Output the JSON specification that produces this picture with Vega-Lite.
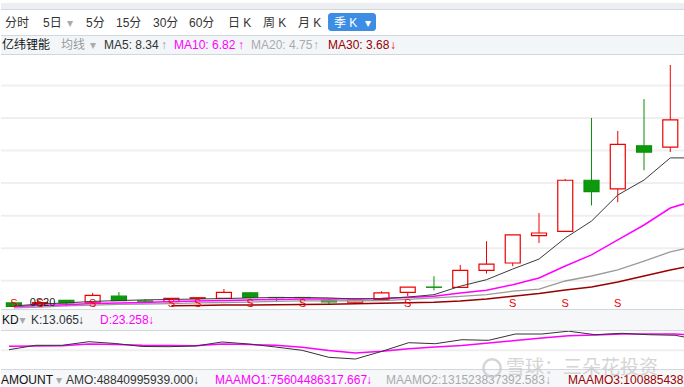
{
"$schema":"https://vega.github.io/schema/vega-lite/v6.json",
"padding":0,
"spacing":0,
"bounds":"flush",
"background":"#ffffff",
"config":{"view":{"stroke":null},"axis":{"disable":true},"legend":{"disable":true},"font":"Liberation Sans, Noto Sans CJK SC, sans-serif","text":{"font":"Liberation Sans, Noto Sans CJK SC, sans-serif"}},
"datasets":{
"candles":[
{"idx":0,"o":1.98,"h":2.00,"l":1.80,"c":1.82,"dir":"down"},
{"idx":1,"o":1.95,"h":2.01,"l":1.93,"c":1.99,"dir":"up"},
{"idx":2,"o":2.10,"h":2.10,"l":1.82,"c":1.98,"dir":"down"},
{"idx":3,"o":2.01,"h":2.44,"l":2.01,"c":2.33,"dir":"up"},
{"idx":4,"o":2.29,"h":2.48,"l":2.08,"c":2.08,"dir":"down"},
{"idx":5,"o":2.07,"h":2.16,"l":1.98,"c":2.06,"dir":"down"},
{"idx":6,"o":2.04,"h":2.19,"l":2.04,"c":2.19,"dir":"up"},
{"idx":7,"o":2.19,"h":2.22,"l":2.19,"c":2.22,"dir":"up"},
{"idx":8,"o":2.19,"h":2.62,"l":2.19,"c":2.47,"dir":"up"},
{"idx":9,"o":2.44,"h":2.48,"l":2.19,"c":2.24,"dir":"down"},
{"idx":10,"o":2.23,"h":2.25,"l":2.06,"c":2.22,"dir":"down"},
{"idx":11,"o":2.23,"h":2.25,"l":2.13,"c":2.22,"dir":"down"},
{"idx":12,"o":2.10,"h":2.16,"l":1.94,"c":2.03,"dir":"down"},
{"idx":13,"o":2.01,"h":2.10,"l":1.94,"c":2.10,"dir":"up"},
{"idx":14,"o":2.13,"h":2.52,"l":2.13,"c":2.44,"dir":"up"},
{"idx":15,"o":2.47,"h":2.71,"l":2.29,"c":2.71,"dir":"up"},
{"idx":16,"o":2.71,"h":3.21,"l":2.56,"c":2.70,"dir":"down"},
{"idx":17,"o":2.70,"h":3.73,"l":2.70,"c":3.48,"dir":"up"},
{"idx":18,"o":3.48,"h":4.82,"l":3.33,"c":3.77,"dir":"up"},
{"idx":19,"o":3.82,"h":5.11,"l":3.67,"c":5.11,"dir":"up"},
{"idx":20,"o":5.08,"h":6.12,"l":4.74,"c":5.20,"dir":"up"},
{"idx":21,"o":5.28,"h":7.69,"l":5.28,"c":7.63,"dir":"up"},
{"idx":22,"o":7.63,"h":10.50,"l":6.47,"c":7.11,"dir":"down"},
{"idx":23,"o":7.23,"h":9.90,"l":6.62,"c":9.28,"dir":"up"},
{"idx":24,"o":9.22,"h":11.37,"l":8.09,"c":8.93,"dir":"down"},
{"idx":25,"o":9.16,"h":12.94,"l":8.93,"c":10.41,"dir":"up"}
],
"ma":[
{"idx":0,"ma5":1.84,"ma10":1.82,"ma20":1.75,"ma30":null},
{"idx":1,"ma5":1.93,"ma10":1.86,"ma20":1.79,"ma30":null},
{"idx":2,"ma5":1.98,"ma10":1.90,"ma20":1.84,"ma30":null},
{"idx":3,"ma5":2.05,"ma10":1.95,"ma20":1.88,"ma30":null},
{"idx":4,"ma5":2.09,"ma10":1.98,"ma20":1.91,"ma30":null},
{"idx":5,"ma5":2.12,"ma10":2.00,"ma20":1.93,"ma30":null},
{"idx":6,"ma5":2.14,"ma10":2.05,"ma20":1.95,"ma30":1.85},
{"idx":7,"ma5":2.16,"ma10":2.07,"ma20":1.98,"ma30":1.86},
{"idx":8,"ma5":2.18,"ma10":2.09,"ma20":2.00,"ma30":1.88},
{"idx":9,"ma5":2.21,"ma10":2.12,"ma20":2.02,"ma30":1.88},
{"idx":10,"ma5":2.23,"ma10":2.14,"ma20":2.05,"ma30":1.90},
{"idx":11,"ma5":2.23,"ma10":2.16,"ma20":2.07,"ma30":1.91},
{"idx":12,"ma5":2.21,"ma10":2.16,"ma20":2.07,"ma30":1.92},
{"idx":13,"ma5":2.16,"ma10":2.17,"ma20":2.08,"ma30":1.94},
{"idx":14,"ma5":2.18,"ma10":2.18,"ma20":2.09,"ma30":1.97},
{"idx":15,"ma5":2.25,"ma10":2.23,"ma20":2.14,"ma30":1.99},
{"idx":16,"ma5":2.36,"ma10":2.29,"ma20":2.21,"ma30":2.01},
{"idx":17,"ma5":2.75,"ma10":2.44,"ma20":2.28,"ma30":2.07},
{"idx":18,"ma5":3.05,"ma10":2.56,"ma20":2.36,"ma30":2.16},
{"idx":19,"ma5":3.54,"ma10":2.82,"ma20":2.52,"ma30":2.29},
{"idx":20,"ma5":4.00,"ma10":3.13,"ma20":2.62,"ma30":2.41},
{"idx":21,"ma5":4.97,"ma10":3.68,"ma20":2.99,"ma30":2.58},
{"idx":22,"ma5":5.75,"ma10":4.19,"ma20":3.22,"ma30":2.71},
{"idx":23,"ma5":6.95,"ma10":4.88,"ma20":3.50,"ma30":2.94},
{"idx":24,"ma5":7.64,"ma10":5.57,"ma20":3.91,"ma30":3.22},
{"idx":25,"ma5":8.66,"ma10":6.35,"ma20":4.33,"ma30":3.50},
{"idx":26,"ma5":8.66,"ma10":6.72,"ma20":4.60,"ma30":3.73}
],
"kd":[
{"idx":0,"k":51.8,"d":60.9},{"idx":1,"k":63.6,"d":61.7},{"idx":2,"k":63.6,"d":62.5},
{"idx":3,"k":73.3,"d":67.1},{"idx":4,"k":68.4,"d":65.8},{"idx":5,"k":60.4,"d":63.6},
{"idx":6,"k":59.9,"d":63.1},{"idx":7,"k":61.7,"d":62.5},{"idx":8,"k":72.5,"d":67.1},
{"idx":9,"k":67.1,"d":65.8},{"idx":10,"k":59.1,"d":63.6},{"idx":11,"k":50.2,"d":58.2},
{"idx":12,"k":31.4,"d":49.7},{"idx":13,"k":26.8,"d":42.9},{"idx":14,"k":47.5,"d":47.5},
{"idx":15,"k":70.6,"d":54.5},{"idx":16,"k":67.9,"d":59.1},{"idx":17,"k":78.6,"d":63.1},
{"idx":18,"k":77.0,"d":69.8},{"idx":19,"k":93.9,"d":76.5},{"idx":20,"k":93.9,"d":83.2},
{"idx":21,"k":101.5,"d":89.4},{"idx":22,"k":92.1,"d":91.3},{"idx":23,"k":95.8,"d":93.9},
{"idx":24,"k":92.1,"d":93.9},{"idx":25,"k":90.5,"d":93.9},{"idx":26,"k":77.0,"d":89.9}
],
"smarks":[{"idx":0},{"idx":1},{"idx":3},{"idx":6},{"idx":7},{"idx":9},{"idx":11},{"idx":15},{"idx":19},{"idx":21},{"idx":23}],
"grid":[{"v":3},{"v":4.5},{"v":6},{"v":7.5},{"v":9},{"v":10.5},{"v":12}],
"one":[{}]
},
"vconcat":[
{"width":684,"height":6,"view":{"fill":"#eceef1","stroke":null},"data":{"name":"one"},"mark":{"type":"text","text":""}},
{"width":684,"height":1,"view":{"fill":"#d3d6dc","stroke":null},"data":{"name":"one"},"mark":{"type":"text","text":""}},
{"width":684,"height":25,"data":{"name":"one"},"layer":[
 {"mark":{"type":"rect","color":"#3e8de5","cornerRadius":3},"encoding":{"x":{"datum":11.973,"type":"quantitative","scale":{"domain":[-0.3,25.37],"nice":false,"zero":false}},"x2":{"datum":13.774},"y":{"datum":0.16,"type":"quantitative","scale":{"domain":[0,1],"nice":false,"zero":false}},"y2":{"datum":0.88}}},
 {"mark":{"type":"text","text":"分时","align":"left","fontSize":12,"color":"#333333"},"encoding":{"x":{"datum":-0.15,"type":"quantitative","scale":{"domain":[-0.3,25.37],"nice":false,"zero":false}}}},
 {"mark":{"type":"text","text":"5日","align":"left","fontSize":12,"color":"#333333"},"encoding":{"x":{"datum":1.276,"type":"quantitative","scale":{"domain":[-0.3,25.37],"nice":false,"zero":false}}}},
 {"mark":{"type":"text","text":"▾","align":"center","fontSize":12,"font":"DejaVu Sans","color":"#aaaaaa"},"encoding":{"x":{"datum":2.29,"type":"quantitative","scale":{"domain":[-0.3,25.37],"nice":false,"zero":false}}}},
 {"mark":{"type":"text","text":"5分","align":"left","fontSize":12,"color":"#333333"},"encoding":{"x":{"datum":2.89,"type":"quantitative","scale":{"domain":[-0.3,25.37],"nice":false,"zero":false}}}},
 {"mark":{"type":"text","text":"15分","align":"left","fontSize":12,"color":"#333333"},"encoding":{"x":{"datum":4.016,"type":"quantitative","scale":{"domain":[-0.3,25.37],"nice":false,"zero":false}}}},
 {"mark":{"type":"text","text":"30分","align":"left","fontSize":12,"color":"#333333"},"encoding":{"x":{"datum":5.405,"type":"quantitative","scale":{"domain":[-0.3,25.37],"nice":false,"zero":false}}}},
 {"mark":{"type":"text","text":"60分","align":"left","fontSize":12,"color":"#333333"},"encoding":{"x":{"datum":6.756,"type":"quantitative","scale":{"domain":[-0.3,25.37],"nice":false,"zero":false}}}},
 {"mark":{"type":"text","text":"日 K","align":"left","fontSize":12,"color":"#333333"},"encoding":{"x":{"datum":8.219,"type":"quantitative","scale":{"domain":[-0.3,25.37],"nice":false,"zero":false}}}},
 {"mark":{"type":"text","text":"周 K","align":"left","fontSize":12,"color":"#333333"},"encoding":{"x":{"datum":9.533,"type":"quantitative","scale":{"domain":[-0.3,25.37],"nice":false,"zero":false}}}},
 {"mark":{"type":"text","text":"月 K","align":"left","fontSize":12,"color":"#333333"},"encoding":{"x":{"datum":10.847,"type":"quantitative","scale":{"domain":[-0.3,25.37],"nice":false,"zero":false}}}},
 {"mark":{"type":"text","text":"季 K","align":"left","fontSize":12,"color":"#ffffff"},"encoding":{"x":{"datum":12.198,"type":"quantitative","scale":{"domain":[-0.3,25.37],"nice":false,"zero":false}}}},
 {"mark":{"type":"text","text":"▾","align":"center","fontSize":12,"font":"DejaVu Sans","color":"#ffffff"},"encoding":{"x":{"datum":13.474,"type":"quantitative","scale":{"domain":[-0.3,25.37],"nice":false,"zero":false}}}}
]},
{"width":684,"height":1,"view":{"fill":"#d3d6dc","stroke":null},"data":{"name":"one"},"mark":{"type":"text","text":""}},
{"width":684,"height":18,"view":{"fill":"#f3f6f9","stroke":null},"data":{"name":"one"},"layer":[
 {"mark":{"type":"text","text":"亿纬锂能","align":"left","fontSize":12,"color":"#111111"},"encoding":{"x":{"datum":-0.262,"type":"quantitative","scale":{"domain":[-0.3,25.37],"nice":false,"zero":false}}}},
 {"mark":{"type":"text","text":"均线","align":"left","fontSize":12,"color":"#999999"},"encoding":{"x":{"datum":1.952,"type":"quantitative","scale":{"domain":[-0.3,25.37],"nice":false,"zero":false}}}},
 {"mark":{"type":"text","text":"▾","align":"center","fontSize":12,"font":"DejaVu Sans","color":"#aaaaaa"},"encoding":{"x":{"datum":3.153,"type":"quantitative","scale":{"domain":[-0.3,25.37],"nice":false,"zero":false}}}},
 {"mark":{"type":"text","text":"MA5: 8.34","align":"left","fontSize":12,"color":"#333333"},"encoding":{"x":{"datum":3.566,"type":"quantitative","scale":{"domain":[-0.3,25.37],"nice":false,"zero":false}}}},
 {"mark":{"type":"text","text":"↑","align":"center","fontSize":12,"color":"#999999"},"encoding":{"x":{"datum":5.817,"type":"quantitative","scale":{"domain":[-0.3,25.37],"nice":false,"zero":false}}}},
 {"mark":{"type":"text","text":"MA10: 6.82","align":"left","fontSize":12,"color":"#ff00ff"},"encoding":{"x":{"datum":6.193,"type":"quantitative","scale":{"domain":[-0.3,25.37],"nice":false,"zero":false}}}},
 {"mark":{"type":"text","text":"↑","align":"center","fontSize":12,"color":"#ff00ff"},"encoding":{"x":{"datum":8.707,"type":"quantitative","scale":{"domain":[-0.3,25.37],"nice":false,"zero":false}}}},
 {"mark":{"type":"text","text":"MA20: 4.75","align":"left","fontSize":12,"color":"#aaaaaa"},"encoding":{"x":{"datum":9.083,"type":"quantitative","scale":{"domain":[-0.3,25.37],"nice":false,"zero":false}}}},
 {"mark":{"type":"text","text":"↑","align":"center","fontSize":12,"color":"#aaaaaa"},"encoding":{"x":{"datum":11.522,"type":"quantitative","scale":{"domain":[-0.3,25.37],"nice":false,"zero":false}}}},
 {"mark":{"type":"text","text":"MA30: 3.68","align":"left","fontSize":12,"color":"#990000"},"encoding":{"x":{"datum":11.973,"type":"quantitative","scale":{"domain":[-0.3,25.37],"nice":false,"zero":false}}}},
 {"mark":{"type":"text","text":"↓","align":"center","fontSize":12,"color":"#ee0000"},"encoding":{"x":{"datum":14.412,"type":"quantitative","scale":{"domain":[-0.3,25.37],"nice":false,"zero":false}}}}
]},
{"width":684,"height":1,"view":{"fill":"#d3d6dc","stroke":null},"data":{"name":"one"},"mark":{"type":"text","text":""}},
{"width":684,"height":254,"layer":[
 {"data":{"name":"grid"},"mark":{"type":"rule","color":"#efefef","strokeWidth":2},"encoding":{"y":{"field":"v","type":"quantitative","scale":{"domain":[1.7,13.4],"nice":false,"zero":false}}}},
 {"data":{"name":"candles"},"mark":{"type":"rule","strokeWidth":1,"clip":true},"encoding":{"x":{"field":"idx","type":"quantitative","scale":{"domain":[-0.3,25.37],"nice":false,"zero":false}},"y":{"field":"l","type":"quantitative"},"y2":{"field":"h"},"color":{"field":"dir","type":"nominal","scale":{"domain":["up","down"],"range":["#ee0000","#0a8f0a"]}}}},
 {"data":{"name":"candles"},"mark":{"type":"bar","size":15,"strokeWidth":1.2,"clip":true},"encoding":{"x":{"field":"idx","type":"quantitative"},"y":{"field":"o","type":"quantitative"},"y2":{"field":"c"},"fill":{"field":"dir","type":"nominal","scale":{"domain":["up","down"],"range":["#ffffff","#0c9a0c"]}},"stroke":{"field":"dir","type":"nominal","scale":{"domain":["up","down"],"range":["#ee0000","#0a8f0a"]}}}},
 {"data":{"name":"ma"},"mark":{"type":"line","color":"#990000","strokeWidth":1.5,"clip":true},"encoding":{"x":{"field":"idx","type":"quantitative"},"y":{"field":"ma30","type":"quantitative"}}},
 {"data":{"name":"ma"},"mark":{"type":"line","color":"#9a9a9a","strokeWidth":1.3,"clip":true},"encoding":{"x":{"field":"idx","type":"quantitative"},"y":{"field":"ma20","type":"quantitative"}}},
 {"data":{"name":"ma"},"mark":{"type":"line","color":"#ff00ff","strokeWidth":1.5,"clip":true},"encoding":{"x":{"field":"idx","type":"quantitative"},"y":{"field":"ma10","type":"quantitative"}}},
 {"data":{"name":"ma"},"mark":{"type":"line","color":"#3a3a3a","strokeWidth":1,"clip":true},"encoding":{"x":{"field":"idx","type":"quantitative"},"y":{"field":"ma5","type":"quantitative"}}},
 {"data":{"name":"one"},"mark":{"type":"text","text":"0S20","fontSize":11,"color":"#222222"},"encoding":{"x":{"datum":1.09,"type":"quantitative"},"y":{"datum":1.96,"type":"quantitative"}}},
 {"data":{"name":"smarks"},"mark":{"type":"text","text":"S","fontSize":11,"color":"#ee0000"},"encoding":{"x":{"field":"idx","type":"quantitative"},"y":{"datum":1.93,"type":"quantitative"}}}
]},
{"width":684,"height":1,"view":{"fill":"#d3d6dc","stroke":null},"data":{"name":"one"},"mark":{"type":"text","text":""}},
{"width":684,"height":20,"view":{"fill":"#f5f7f9","stroke":null},"data":{"name":"one"},"layer":[
 {"mark":{"type":"text","text":"KD","align":"left","fontSize":12,"color":"#111111"},"encoding":{"x":{"datum":-0.262,"type":"quantitative","scale":{"domain":[-0.3,25.37],"nice":false,"zero":false}}}},
 {"mark":{"type":"text","text":"▾","align":"center","fontSize":12,"font":"DejaVu Sans","color":"#aaaaaa"},"encoding":{"x":{"datum":0.507,"type":"quantitative","scale":{"domain":[-0.3,25.37],"nice":false,"zero":false}}}},
 {"mark":{"type":"text","text":"K:13.065","align":"left","fontSize":12,"color":"#333333"},"encoding":{"x":{"datum":0.826,"type":"quantitative","scale":{"domain":[-0.3,25.37],"nice":false,"zero":false}}}},
 {"mark":{"type":"text","text":"↓","align":"center","fontSize":12,"color":"#333333"},"encoding":{"x":{"datum":2.702,"type":"quantitative","scale":{"domain":[-0.3,25.37],"nice":false,"zero":false}}}},
 {"mark":{"type":"text","text":"D:23.258","align":"left","fontSize":12,"color":"#ff00ff"},"encoding":{"x":{"datum":3.416,"type":"quantitative","scale":{"domain":[-0.3,25.37],"nice":false,"zero":false}}}},
 {"mark":{"type":"text","text":"↓","align":"center","fontSize":12,"color":"#ff00ff"},"encoding":{"x":{"datum":5.33,"type":"quantitative","scale":{"domain":[-0.3,25.37],"nice":false,"zero":false}}}}
]},
{"width":684,"height":1,"view":{"fill":"#d3d6dc","stroke":null},"data":{"name":"one"},"mark":{"type":"text","text":""}},
{"width":684,"height":38,"layer":[
 {"data":{"name":"one"},"mark":{"type":"rule","color":"#efefef","strokeWidth":2},"encoding":{"y":{"datum":50,"type":"quantitative","scale":{"domain":[0,102],"nice":false,"zero":false}}}},
 {"data":{"name":"kd"},"mark":{"type":"line","color":"#ff00ff","strokeWidth":1.5,"clip":true},"encoding":{"x":{"field":"idx","type":"quantitative","scale":{"domain":[-0.3,25.37],"nice":false,"zero":false}},"y":{"field":"d","type":"quantitative"}}},
 {"data":{"name":"kd"},"mark":{"type":"line","color":"#333333","strokeWidth":1,"clip":true},"encoding":{"x":{"field":"idx","type":"quantitative"},"y":{"field":"k","type":"quantitative"}}}
]},
{"width":684,"height":1,"view":{"fill":"#d3d6dc","stroke":null},"data":{"name":"one"},"mark":{"type":"text","text":""}},
{"width":684,"height":20,"view":{"fill":"#f5f7f9","stroke":null},"data":{"name":"one"},"layer":[
 {"mark":{"type":"text","text":"AMOUNT","align":"left","fontSize":12,"color":"#111111"},"encoding":{"x":{"datum":-0.3,"type":"quantitative","scale":{"domain":[-0.3,25.37],"nice":false,"zero":false}}}},
 {"mark":{"type":"text","text":"▾","align":"center","fontSize":12,"font":"DejaVu Sans","color":"#aaaaaa"},"encoding":{"x":{"datum":1.877,"type":"quantitative","scale":{"domain":[-0.3,25.37],"nice":false,"zero":false}}}},
 {"mark":{"type":"text","text":"AMO:48840995939.000","align":"left","fontSize":12,"color":"#333333"},"encoding":{"x":{"datum":2.139,"type":"quantitative","scale":{"domain":[-0.3,25.37],"nice":false,"zero":false}}}},
 {"mark":{"type":"text","text":"↓","align":"center","fontSize":12,"color":"#333333"},"encoding":{"x":{"datum":7.018,"type":"quantitative","scale":{"domain":[-0.3,25.37],"nice":false,"zero":false}}}},
 {"mark":{"type":"text","text":"MAAMO1:75604486317.667","align":"left","fontSize":12,"color":"#ff00ff"},"encoding":{"x":{"datum":7.731,"type":"quantitative","scale":{"domain":[-0.3,25.37],"nice":false,"zero":false}}}},
 {"mark":{"type":"text","text":"↓","align":"center","fontSize":12,"color":"#ff00ff"},"encoding":{"x":{"datum":13.511,"type":"quantitative","scale":{"domain":[-0.3,25.37],"nice":false,"zero":false}}}},
 {"mark":{"type":"text","text":"MAAMO2:131523837392.583","align":"left","fontSize":12,"color":"#aaaaaa"},"encoding":{"x":{"datum":14.15,"type":"quantitative","scale":{"domain":[-0.3,25.37],"nice":false,"zero":false}}}},
 {"mark":{"type":"text","text":"↓","align":"center","fontSize":12,"color":"#aaaaaa"},"encoding":{"x":{"datum":20.229,"type":"quantitative","scale":{"domain":[-0.3,25.37],"nice":false,"zero":false}}}},
 {"mark":{"type":"text","text":"MAAMO3:1008854382","align":"left","fontSize":12,"color":"#990000","clip":true},"encoding":{"x":{"datum":20.98,"type":"quantitative","scale":{"domain":[-0.3,25.37],"nice":false,"zero":false}}}},
 {"mark":{"type":"point","shape":"circle","size":300,"filled":false,"stroke":"#c4c4c4","strokeWidth":2.5,"opacity":0.7,"yOffset":-12},"encoding":{"x":{"datum":18.13,"type":"quantitative","scale":{"domain":[-0.3,25.37],"nice":false,"zero":false}}}},
 {"mark":{"type":"text","text":"雪球：三朵花投资","align":"left","fontSize":19,"color":"#c4c4c4","opacity":0.7,"dy":-12,"font":"Noto Sans CJK SC"},"encoding":{"x":{"datum":18.65,"type":"quantitative","scale":{"domain":[-0.3,25.37],"nice":false,"zero":false}}}}
]}
]
}
